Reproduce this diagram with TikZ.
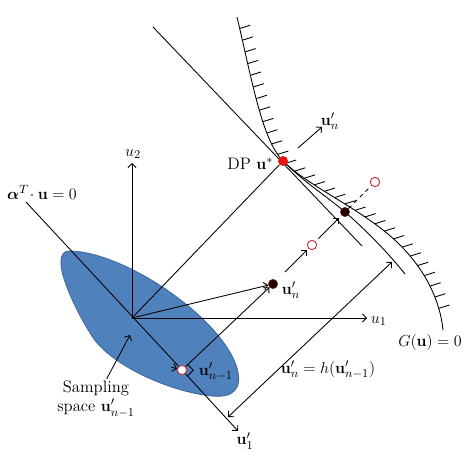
\documentclass[tikz,border=0pt]{standalone}
\usepackage{amsmath}
\usepackage{bm}
\usepackage{tikz}
\usetikzlibrary{arrows.meta}
\usetikzlibrary{decorations.markings}
\definecolor{Blob-blue}{RGB}{79,129,189}
\definecolor{Blob-edge}{RGB}{62,104,160}
\definecolor{DP-red}{RGB}{235,20,20}
\definecolor{Dot-dark}{RGB}{30,0,0}
\definecolor{Ring-red}{RGB}{200,50,50}

\begin{document}
\begin{tikzpicture}[x=0.75pt, y=-0.75pt, line width=0.65pt, >={Straight Barb[length=3pt,width=6pt]}, font=\fontsize{12.5}{14.5}\selectfont]
    \tikzset{ dpt/.style ={circle, fill=DP-red, inner sep=0pt, minimum size=7.5pt} }
    \tikzset{ bpt/.style ={circle, fill=Dot-dark, draw=Ring-red!60!black, line width=0.4pt, inner sep=0pt, minimum size=7pt} }
    \tikzset{ opt/.style ={circle, fill=white, draw=Ring-red, line width=0.7pt, inner sep=0pt, minimum size=7pt} }
    \tikzset{ hatched/.style={postaction={decorate}, decoration={markings, mark=between positions 0.03 and 0.97 step 9pt with {\pgftransformresetnontranslations \draw (0,0) -- (8pt,2.5pt);}}} }

    \useasboundingbox (0,0) rectangle (474,466);

    % sampling space
    \filldraw[fill=Blob-blue, draw=Blob-edge] (70,251) .. controls (125,252) and (222,318) .. (237,368)
        .. controls (243,390) and (232,398) .. (212,396)
        .. controls (170,392) and (110,365) .. (92,336)
        .. controls (75,310) and (60,275) .. (61,262)
        .. controls (61,254) and (64,251) .. (70,251) -- cycle;

    \coordinate (O)      at (132,318);
    \coordinate (u2end)  at (132,163);
    \coordinate (u1end)  at (367,318);
    \coordinate (astart) at (26,202);
    \coordinate (u1tip)  at (238,431);
    \coordinate (tstart) at (153,27);
    \coordinate (tend)   at (362,246);
    \coordinate (nstart) at (298,148);
    \coordinate (nend)   at (322,127);
    \coordinate (hA)     at (228,417);
    \coordinate (hB)     at (392,262);
    \coordinate (stip)   at (130,335);
    \coordinate (tick)   at (171,367);

    % limit state and its approximation
    \draw[hatched] (237,17) .. controls (252,80) and (262,140) .. (283,161)
        .. controls (310,188) and (365,210) .. (400,245)
        .. controls (425,270) and (440,300) .. (443,330);
    \draw (283,161) .. controls (305,183) and (325,195) .. (345,212)
        .. controls (365,229) and (390,255) .. (405,274);
    \draw (tstart) -- (tend);

    \node[dpt] (dp)  at (283,161) {};
    \node[bpt] (un)  at (273,284) {};
    \node[bpt] (ub)  at (345,212) {};
    \node[opt] (oc1) at (182,370) {};
    \node[opt] (oc2) at (312,245) {};
    \node[opt] (oc3) at (375,182) {};

    \node (u2lab) at (133,154) {$u_2$};
    \node[anchor=west] (u1lab) at (366,321) {$u_1$};
    \node (alab) at (42,192) {$\bm{\alpha}^T\!\cdot\mathbf{u} = 0$};
    \node[anchor=east] (dplab) at (278,164) {DP $\mathbf{u}^*$};
    \node (untop) at (330,121) {$\mathbf{u}'_n$};
    \node[anchor=west] (unlab) at (277,290) {$\mathbf{u}'_n$};
    \node[anchor=west] (un1lab) at (194,372) {$\mathbf{u}'_{n-1}$};
    \node (hlab) at (328,370) {$\mathbf{u}'_n = h(\mathbf{u}'_{n-1})$};
    \node (glab) at (430,342) {$G(\mathbf{u}) = 0$};
    \node (u1p) at (245,441) {$\mathbf{u}'_1$};
    \node[align=center, inner sep=1pt] (samp) at (96,399) {Sampling\\space $\mathbf{u}'_{n-1}$};

    \draw[->] (O) -- (u2end);
    \draw[->] (O) -- (u1end);
    \draw (astart) -- (oc1);
    \draw[->] (oc1) -- (u1tip);
    \draw (O) -- (dp);
    \draw[->] (O) -- (un);
    \draw[->] (oc1) -- (un);
    \draw[->, shorten <=9pt, shorten >=1.5pt] (un) -- (oc2);
    \draw[->, shorten <=3pt, shorten >=2.5pt] (oc2) -- (ub);
    \draw[dashed] (ub) -- (oc3);
    \draw[->] (nstart) -- (nend);
    \draw[<->] (hA) -- (hB);
    \draw[->] (samp) -- (stip);
    \draw[->] (tick) -- (oc1);
    \draw ([shift={(5.8,-5.5)}]oc1.center) -- ++(5.5,5.8) -- ++(-5.8,5.5);

  \end{tikzpicture}
\end{document}
